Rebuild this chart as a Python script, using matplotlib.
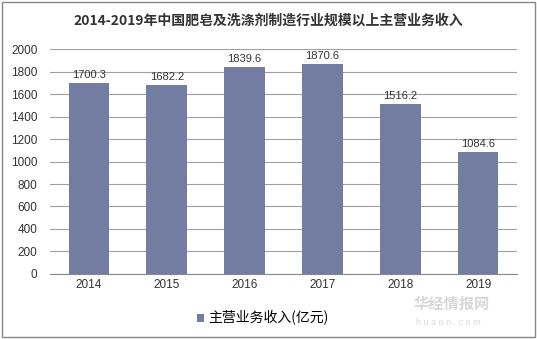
import matplotlib.pyplot as plt
from matplotlib.patches import Rectangle

plt.rcParams['font.family'] = ['Liberation Sans', 'Noto Sans CJK SC']

years = ['2014', '2015', '2016', '2017', '2018', '2019']
revenue = [1700.3, 1682.2, 1839.6, 1870.6, 1516.2, 1084.6]
title = '2014-2019年中国肥皂及洗涤剂制造行业规模以上主营业务收入'
series_name = '主营业务收入(亿元)'

bar_color = '#737ca1'
fig = plt.figure(figsize=(5.37, 3.39), dpi=100)
fig.patches.append(Rectangle((0.004, 0.006), 0.992, 0.988, transform=fig.transFigure,
                             fill=False, edgecolor='#888888', linewidth=1))

ax = fig.add_axes([0.093, 0.192, 0.870, 0.663])
x = range(len(years))
ax.bar(x, revenue, width=0.52, color=bar_color, label=series_name, zorder=3)
for xi, v in zip(x, revenue):
    ax.text(xi, v + 25, f'{v:.1f}', ha='center', va='bottom', fontsize=8, color='#333333', zorder=4)

ax.set_xlim(-0.5, len(years) - 0.5)
ax.set_ylim(0, 2000)
ax.set_yticks(range(0, 2001, 200))
ax.set_xticks(list(x))
ax.set_xticklabels(years)
ax.yaxis.grid(True, color='#a0a0a0', linewidth=0.8, zorder=0)
for s in ['top', 'right', 'left']:
    ax.spines[s].set_visible(False)
ax.spines['bottom'].set_color('#888888')
ax.tick_params(axis='y', length=0, labelsize=8.5, colors='#333333', pad=9)
ax.tick_params(axis='x', length=0, labelsize=8.5, colors='#333333', pad=4)

fig.text(0.5, 0.94, title, ha='center', va='center', fontsize=10, fontweight='bold',
         color='#333333', family=['Noto Sans CJK SC'])

fig.legend(loc='center', bbox_to_anchor=(0.49, 0.062), frameon=False, fontsize=10,
           handlelength=0.5, handleheight=0.5, handletextpad=0.3,
           prop={'family': ['Noto Sans CJK SC'], 'size': 10})

# watermark
fig.text(0.77, 0.105, '华经情报网', fontsize=11, color='#d8d8d8', fontweight='bold', ha='left',
         va='center', family=['Noto Sans CJK SC'])
fig.text(0.775, 0.048, 'h u a o n . c o m', fontsize=6.5, color='#d8d8d8', ha='left', va='center')

fig.savefig('out.png', dpi=100)
